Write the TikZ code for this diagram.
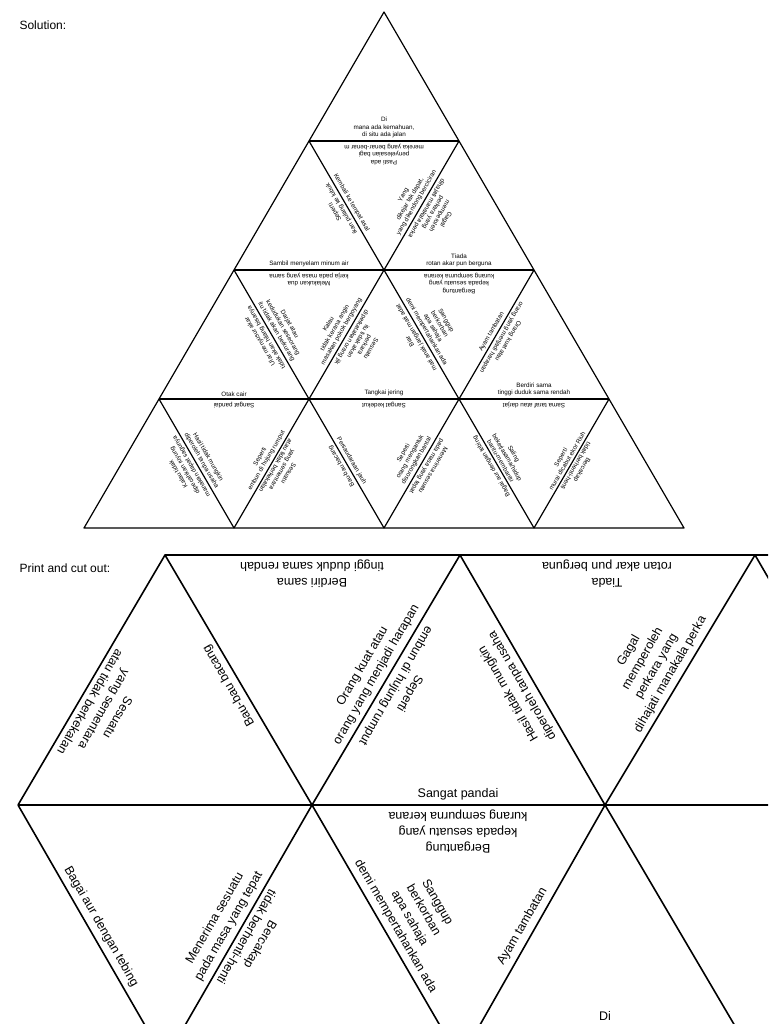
\documentclass[tikz,border=0pt]{standalone}
\usepackage{fontspec}
\setmainfont{Liberation Sans}
\newcommand{\et}[6][et]{\node[#1,rotate=#5] (#2) at (#3,#4) {#6};}
\begin{document}
\begin{tikzpicture}[x=1pt,y=-1pt,
  et/.style={anchor=south,align=center,inner sep=2.5pt,font=\fontsize{6.3}{7.5}\selectfont},
  bt/.style={anchor=south,align=center,inner sep=5pt,font=\fontsize{12.5}{16}\selectfont},
  ln/.style={line width=1.2pt,line join=round},
  bln/.style={line width=1.6pt,line join=round}]
\useasboundingbox (0,0) rectangle (768,1024);
\clip (0,0) rectangle (768,1024);
\fill[white] (0,0) rectangle (768,1024);
\node[anchor=west,font=\fontsize{12}{14}\selectfont] (sol) at (16,25) {Solution:};
\node[anchor=west,font=\fontsize{12}{14}\selectfont] (pc) at (16,568) {Print and cut out:};
% big triangle
\draw[ln] (384,12)--(84,528)--(684,528)--cycle;
\draw[ln] (309,141)--(459,141) (234,270)--(534,270) (159,399)--(609,399);
\draw[ln] (459,141)--(234,528) (534,270)--(384,528) (609,399)--(534,528);
\draw[ln] (309,141)--(534,528) (234,270)--(384,528) (159,399)--(234,528);
% row1/2
\et{a1}{384}{141}{0}{Di\\mana ada kemahuan,\\di situ ada jalan}
\et{a2}{384}{141}{180}{Pasti ada\\penyelesaian bagi\\mereka yang benar-benar m}
\et{a3}{346.5}{205.5}{-60}{Kembali ke tempat asal}
\et{a4}{346.5}{205.5}{120}{Seperti\\ikan pulang ke lubuk}
\et{a5}{421.5}{205.5}{60}{Yang\\dikejar tak dapat,\\yang dikendong berciciran}
\et{a6}{421.5}{205.5}{-120}{Gagal\\memperoleh\\perkara yang\\dihajati manakala perka}
\et{a7}{309}{270}{0}{Sambil menyelam minum air}
\et{a8}{459}{270}{0}{Tiada\\rotan akar pun berguna}
% row3
\et{b1}{309}{270}{180}{Melakukan dua\\kerja pada masa yang sama}
\et{b2}{271.5}{334.5}{-60}{Darjat atau\\kedudukan seseorang\\itu tidak akan berkurang}
\et{b3}{271.5}{334.5}{120}{Ular menyusur akar\\tidak akan hilang bisanya}
\et{b4}{346.5}{334.5}{60}{Kalau\\tidak kerana angin\\masakan pokok bergoyang}
\et{b5}{346.5}{334.5}{-120}{Sesuatu\\perkara\\itu tidak akan\\diperkatakan orang jik}
\et{b6}{459}{270}{180}{Bergantung\\kepada sesuatu yang\\kurang sempurna kerana}
\et{b7}{421.5}{334.5}{-60}{Sanggup\\berkorban\\apa sahaja\\demi mempertahankan ada}
\et{b8}{421.5}{334.5}{120}{Biar\\mati anak jangan mati adat}
\et{b9}{496.5}{334.5}{60}{Ayam tambatan}
\et{b10}{496.5}{334.5}{-120}{Orang kuat atau\\orang yang menjadi harapan}
\et{b11}{234}{399}{0}{Otak cair}
\et{b12}{384}{399}{0}{Tangkai jering}
\et{b13}{534}{399}{0}{Berdiri sama\\tinggi duduk sama rendah}
% row4
\et{c1}{234}{399}{180}{Sangat pandai}
\et{c2}{196.5}{463.5}{-60}{Hasil tidak mungkin\\diperoleh tanpa usaha}
\et{c3}{196.5}{463.5}{120}{Kalau tidak\\dipecahkan ruyung\\manakan dapat sagunya}
\et{c4}{271.5}{463.5}{60}{Seperti\\embun di hujung rumput}
\et{c5}{271.5}{463.5}{-120}{Sesuatu\\yang sementara\\atau tidak berkekalan}
\et{c6}{384}{399}{180}{Sangat kedekut}
\et{c7}{346.5}{463.5}{-60}{Persaudaraan jauh}
\et{c8}{346.5}{463.5}{120}{Bau-bau bacang}
\et{c9}{421.5}{463.5}{60}{Seperti\\orang mengantuk\\disorongkan bantal}
\et{c10}{421.5}{463.5}{-120}{Menerima sesuatu\\pada masa yang tepat}
\et{c11}{534}{399}{180}{Sama taraf atau darjat}
\et{c12}{496.5}{463.5}{-60}{Saling\\bekerjasama/hidup\\bantu-membantu}
\et{c13}{496.5}{463.5}{120}{Bagai aur dengan tebing}
\et{c14}{571.5}{463.5}{60}{Seperti\\murai dicabut ekor Riuh}
\et{c15}{571.5}{463.5}{-120}{Bercakap\\tidak berhenti-henti}
% cut-out strip
\draw[bln] (165,555)--(780,555) (18,805)--(780,805);
\draw[bln] (18,805)--(165,555)--(312,805)--(460,555)--(605,805)--(755,555)--(900,805);
\draw[bln] (18,805)--(165,1060)--(312,805)--(460,1060)--(605,805)--(755,1060);
\et[bt]{d1}{82}{697}{-120}{Sesuatu\\yang sementara\\atau tidak berkekalan}
\et[bt]{d2}{238.5}{680}{120}{Bau-bau bacang}
\et[bt]{d3}{312}{555}{180}{Berdiri sama\\tinggi duduk sama rendah}
\et[bt]{d4}{386}{680}{60}{Orang kuat atau\\orang yang menjadi harapan}
\et[bt]{d5}{386}{680}{-120}{Seperti\\embun di hujung rumput}
\et[bt]{d6}{532}{680}{120}{Hasil tidak mungkin\\diperoleh tanpa usaha}
\et[bt]{d7}{458}{805}{0}{Sangat pandai}
\et[bt]{d8}{607}{555}{180}{Tiada\\rotan akar pun berguna}
\et[bt]{d9}{680}{680}{60}{Gagal\\memperoleh\\perkara yang\\dihajati manakala perka}
\et[bt]{e1}{91.5}{932}{-60}{Bagai aur dengan tebing}
\et[bt]{e2}{238.5}{932}{60}{Menerima sesuatu\\pada masa yang tepat}
\et[bt]{e3}{238.5}{932}{-120}{Bercakap\\tidak berhenti-henti}
\et[bt]{e4}{458}{805}{180}{Bergantung\\kepada sesuatu yang\\kurang sempurna kerana}
\et[bt]{e5}{386}{932}{-60}{Sanggup\\berkorban\\apa sahaja\\demi mempertahankan ada}
\et[bt]{e6}{532}{932}{60}{Ayam tambatan}
\et[bt]{e7}{605}{1060}{0}{Di\\mana ada kemahuan,\\di situ ada jalan}
\end{tikzpicture}
\end{document}
